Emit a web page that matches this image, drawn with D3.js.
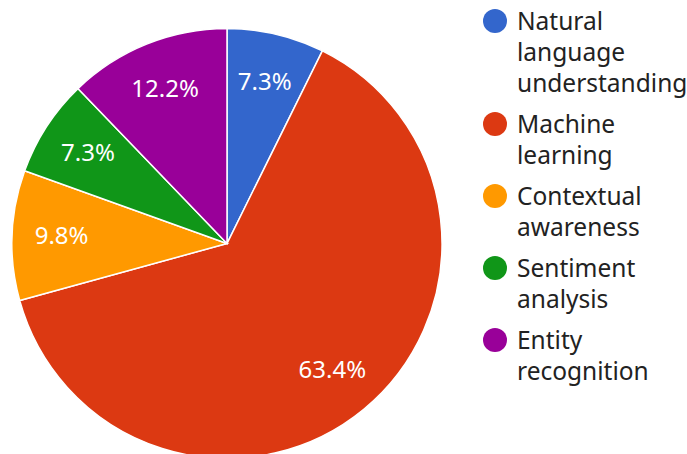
<!DOCTYPE html>
<html>
<head>
<meta charset="utf-8">
<script src="https://cdn.jsdelivr.net/npm/d3@7"></script>
<style>
  body { margin: 0; background: #fff; }
  text { font-family: "Noto Sans", sans-serif; }
</style>
</head>
<body>
<div id="container"></div>
<script>
/* DATA */
const categories = ["Natural language understanding", "Machine learning", "Contextual awareness", "Sentiment analysis", "Entity recognition"];
const legendLines = [["Natural", "language", "understanding"], ["Machine", "learning"], ["Contextual", "awareness"], ["Sentiment", "analysis"], ["Entity", "recognition"]];
const counts = [3, 26, 4, 3, 5];
const colors = ["#3366cc", "#dc3912", "#ff9900", "#109618", "#990099"];

/* SIZES */
const width = 687;
const height = 454;
const cx = 227, cy = 243.5, radius = 215;

const svg = d3.select("#container")
  .append("svg")
  .attr("width", width)
  .attr("height", height);

const total = d3.sum(counts);
const pie = d3.pie().sort(null).value(d => d);
const arcs = pie(counts);

const arc = d3.arc().innerRadius(0).outerRadius(radius);
const labelArc = d3.arc().innerRadius(radius * 0.77).outerRadius(radius * 0.77);

const g = svg.append("g").attr("transform", `translate(${cx},${cy})`);

// slices
g.selectAll("path")
  .data(arcs)
  .join("path")
  .attr("d", arc)
  .attr("fill", (d, i) => colors[i])
  .attr("stroke", "#fff")
  .attr("stroke-width", 1.5);

// percent labels
g.selectAll(".pct")
  .data(arcs)
  .join("text")
  .attr("class", "pct")
  .attr("transform", d => `translate(${labelArc.centroid(d)})`)
  .attr("text-anchor", "middle")
  .attr("dy", "0.3em")
  .style("font-size", "24px")
  .style("fill", "#fff")
  .text(d => (d.value / total * 100).toFixed(1) + "%");

// legend
const lineH = 31, itemGap = 41;
let y = 30;
const legend = svg.append("g");
legendLines.forEach((lines, i) => {
  legend.append("circle")
    .attr("cx", 495)
    .attr("cy", y - 9)
    .attr("r", 12)
    .attr("fill", colors[i]);
  const t = legend.append("text")
    .attr("x", 517)
    .attr("y", y)
    .style("font-size", "24.5px")
    .style("fill", "#222");
  lines.forEach((line, j) => {
    t.append("tspan")
      .attr("x", 517)
      .attr("y", y + j * lineH)
      .text(line);
  });
  y += (lines.length - 1) * lineH + itemGap;
});
</script>
</body>
</html>
